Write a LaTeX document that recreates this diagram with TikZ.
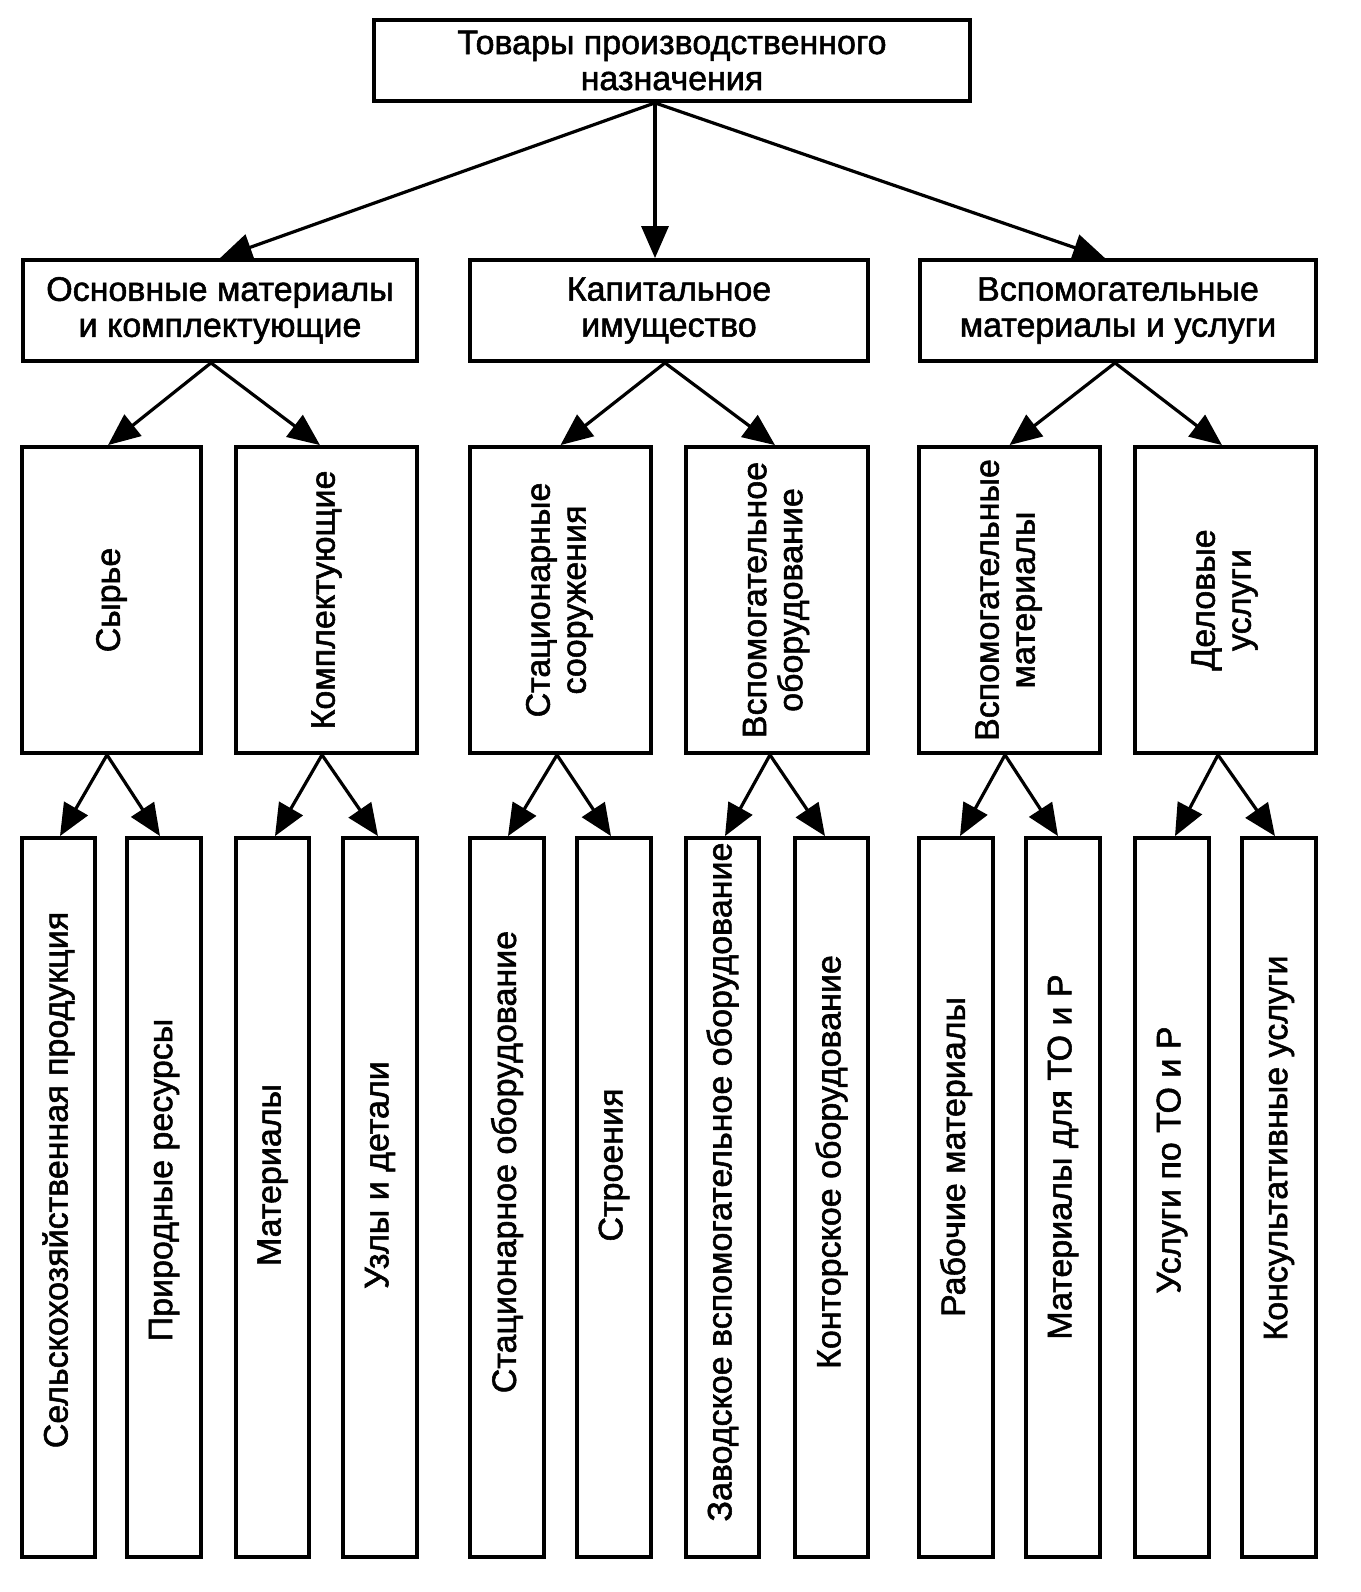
\documentclass[tikz,border=0pt]{standalone}
\usepackage{fontspec}
\setmainfont{Liberation Sans}[BoldFont=Liberation Sans, BoldFeatures={FakeBold=1.6}]
\usetikzlibrary{arrows.meta}
\newcommand{\vtext}[2]{\rotatebox{90}{\makebox[0pt]{\kern#1pt\relax#2}}}
\newcommand{\vtwo}[2]{\rotatebox{90}{\makebox[0pt]{\begin{tabular}{@{}c@{}}#1\\#2\end{tabular}}}}
\begin{document}
\begin{tikzpicture}[x=1pt,y=-1pt,
  box/.style={draw, line width=3.8pt, rectangle, inner sep=0pt, font=\fontsize{34}{36}\selectfont\bfseries, align=center},
  arr/.style={line width=3.2pt, -{Triangle[length=32pt,width=27pt]}}]
\useasboundingbox[fill=white] (0,0) rectangle (1360,1592);
% top
\node[box, minimum width=596pt, minimum height=81pt] (top) at (672,60.5) {Товары производственного\\назначения};
% level 2
\node[box, minimum width=394pt, minimum height=101pt] (A) at (220,310.5) {Основные материалы\\и комплектующие};
\node[box, minimum width=398pt, minimum height=101pt] (B) at (669,310.5) {Капитальное\\имущество};
\node[box, minimum width=396pt, minimum height=101pt] (C) at (1118,310.5) {Вспомогательные\\материалы и услуги};
% level 3
\node[box, minimum width=179pt, minimum height=306pt] (s1) at (111.5,600) {\vtext{0}{Сырье}};
\node[box, minimum width=181pt, minimum height=306pt] (s2) at (326.5,600) {\vtext{0}{Комплектующие}};
\node[box, minimum width=181pt, minimum height=306pt] (s3) at (560.5,600) {\vtwo{Стационарные}{сооружения}};
\node[box, minimum width=182pt, minimum height=306pt] (s4) at (777,600) {\vtwo{Вспомогательное}{оборудование}};
\node[box, minimum width=181pt, minimum height=306pt] (s5) at (1009.5,600) {\vtwo{Вспомогательные}{материалы}};
\node[box, minimum width=181pt, minimum height=306pt] (s6) at (1225.5,600) {\vtwo{Деловые}{услуги}};
% level 4
\node[box, minimum width=73pt, minimum height=719pt] (b1) at (58.5,1197.5) {\vtext{35}{Сельскохозяйственная продукция}};
\node[box, minimum width=74pt, minimum height=719pt] (b2) at (164,1197.5) {\vtext{35}{Природные ресурсы}};
\node[box, minimum width=73pt, minimum height=719pt] (b3) at (272.5,1197.5) {\vtext{45}{Материалы}};
\node[box, minimum width=74pt, minimum height=719pt] (b4) at (380,1197.5) {\vtext{45}{Узлы и детали}};
\node[box, minimum width=74pt, minimum height=719pt] (b5) at (507,1197.5) {\vtext{71}{Стационарное оборудование}};
\node[box, minimum width=74pt, minimum height=719pt] (b6) at (614,1197.5) {\vtext{65}{Строения}};
\node[box, minimum width=73pt, minimum height=719pt] (b7) at (722.5,1197.5) {\vtext{31}{Заводское вспомогательное оборудование}};
\node[box, minimum width=73pt, minimum height=719pt] (b8) at (831.5,1197.5) {\vtext{71}{Конторское оборудование}};
\node[box, minimum width=74pt, minimum height=719pt] (b9) at (956,1197.5) {\vtext{81}{Рабочие материалы}};
\node[box, minimum width=74pt, minimum height=719pt] (b10) at (1063,1197.5) {\vtext{81}{Материалы для ТО и Р}};
\node[box, minimum width=74pt, minimum height=719pt] (b11) at (1172,1197.5) {\vtext{75}{Услуги по ТО и Р}};
\node[box, minimum width=74pt, minimum height=719pt] (b12) at (1279,1197.5) {\vtext{99}{Консультативные услуги}};
% arrows top -> level 2
\draw[arr] ([xshift=-17pt]top.south) -- (A.north);
\draw[arr] ([xshift=-17pt]top.south) -- ([xshift=-14pt]B.north);
\draw[arr] ([xshift=-17pt]top.south) -- ([xshift=-13pt]C.north);
% level 2 -> level 3
\draw[arr] ([xshift=-9pt]A.south) -- ([xshift=-3.5pt]s1.north);
\draw[arr] ([xshift=-9pt]A.south) -- ([xshift=-6.5pt]s2.north);
\draw[arr] ([xshift=-4pt]B.south) -- (s3.north);
\draw[arr] ([xshift=-4pt]B.south) -- ([xshift=-2pt]s4.north);
\draw[arr] ([xshift=-3pt]C.south) -- (s5.north);
\draw[arr] ([xshift=-3pt]C.south) -- ([xshift=-3.5pt]s6.north);
% level 3 -> level 4
\draw[arr] ([xshift=-4.5pt]s1.south) -- ([xshift=1.5pt]b1.north);
\draw[arr] ([xshift=-4.5pt]s1.south) -- ([xshift=-4pt]b2.north);
\draw[arr] ([xshift=-4.5pt]s2.south) -- ([xshift=2.5pt]b3.north);
\draw[arr] ([xshift=-4.5pt]s2.south) -- ([xshift=-2pt]b4.north);
\draw[arr] ([xshift=-3.5pt]s3.south) -- ([xshift=1pt]b5.north);
\draw[arr] ([xshift=-3.5pt]s3.south) -- ([xshift=-3pt]b6.north);
\draw[arr] ([xshift=-7pt]s4.south) -- ([xshift=2.5pt]b7.north);
\draw[arr] ([xshift=-7pt]s4.south) -- ([xshift=-6.5pt]b8.north);
\draw[arr] ([xshift=-4.5pt]s5.south) -- ([xshift=4pt]b9.north);
\draw[arr] ([xshift=-4.5pt]s5.south) -- ([xshift=-5pt]b10.north);
\draw[arr] ([xshift=-7.5pt]s6.south) -- ([xshift=3pt]b11.north);
\draw[arr] ([xshift=-7.5pt]s6.south) -- ([xshift=-4pt]b12.north);
\end{tikzpicture}
\end{document}
